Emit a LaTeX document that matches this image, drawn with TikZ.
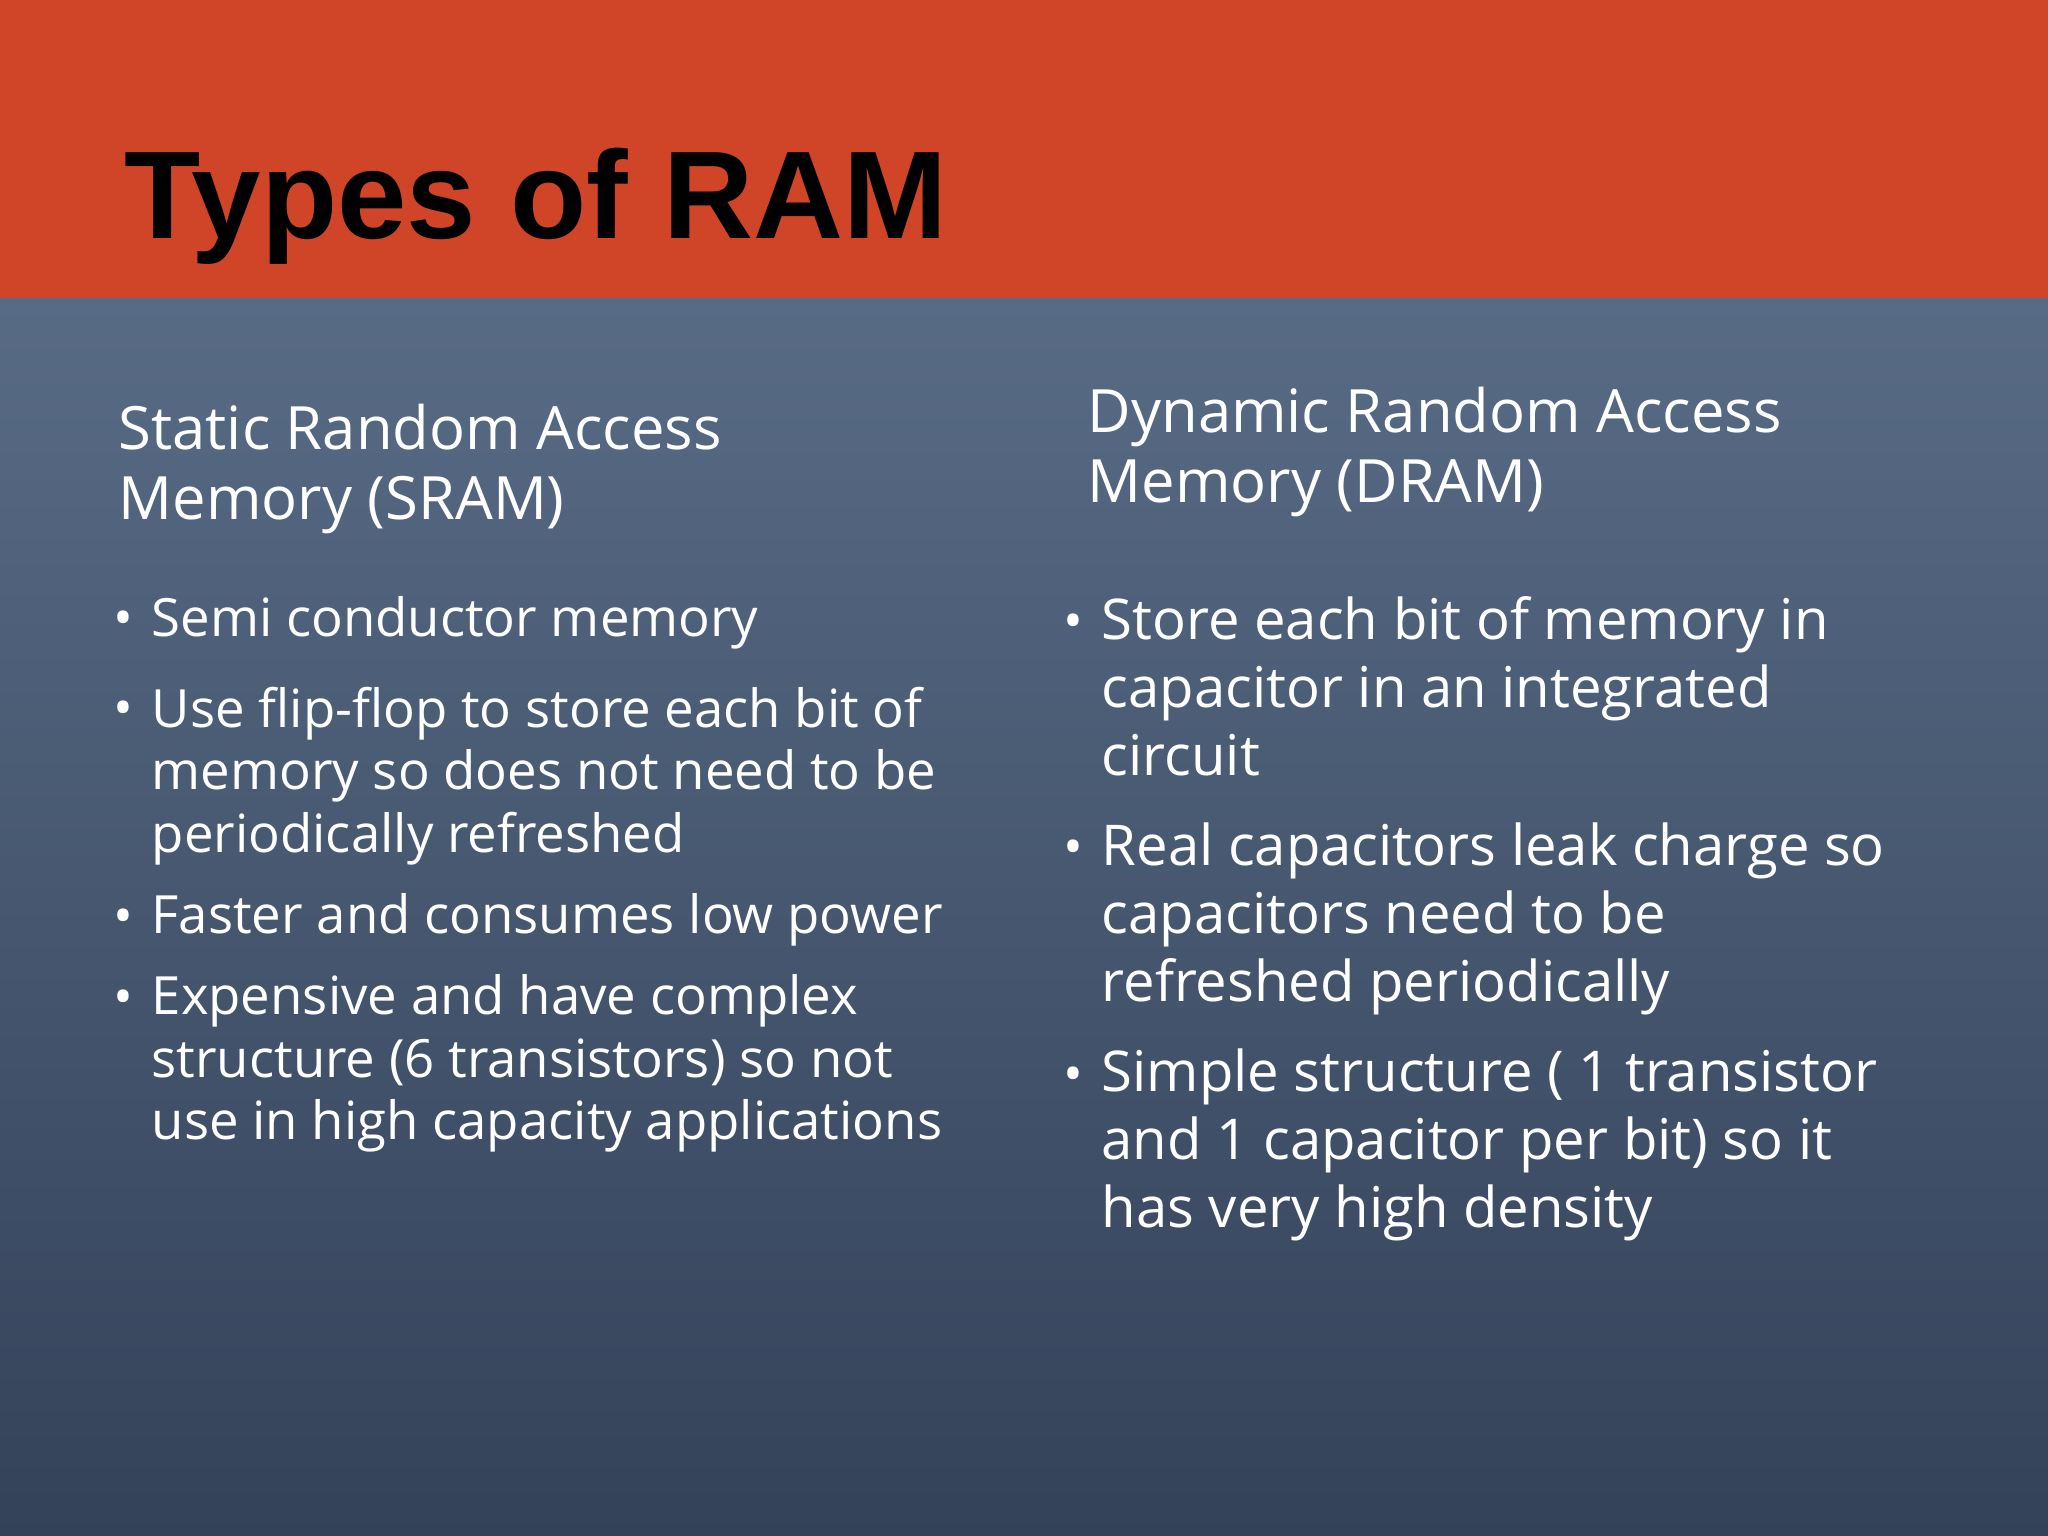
\documentclass[tikz,border=0pt]{standalone}
\usepackage{fontspec}
\setmainfont{Open Sans}
\newfontfamily\titlefont{Liberation Sans}
\definecolor{band}{HTML}{D04527}
\definecolor{bgtop}{HTML}{586B85}
\definecolor{bgbot}{HTML}{344259}
\begin{document}
\begin{tikzpicture}[
  head/.style={anchor=north west, inner sep=0pt, align=left, text=white, font=\fontsize{17}{20}\selectfont},
  item/.style={anchor=north west, inner sep=0pt, align=left, text=white, font=\fontsize{15}{17.8}\selectfont},
  bigitem/.style={item, font=\fontsize{16}{19.3}\selectfont},
  dot/.style={anchor=base west, inner sep=0pt, text=white, font=\fontsize{15}{17.8}\selectfont}
]
  \useasboundingbox (0,0) rectangle (20.48,-15.36);
  % background
  \shade[top color=bgtop, bottom color=bgbot] (0,-2.98) rectangle (20.48,-15.36);
  \fill[band] (0,0) rectangle (20.48,-2.98);
  \node[anchor=base west, inner sep=0pt, font=\titlefont\bfseries\fontsize{35.5}{38}\selectfont] (title) at (1.24,-2.39) {Types of RAM};

  % left column
  \node[head] (sram) at (1.18,-4.03) {Static Random Access\\Memory (SRAM)};
  \node[item] (s1) at (1.51,-5.96) {Semi conductor memory};
  \node[item] (s2) at (1.51,-6.86) {Use flip-flop to store each bit of\\memory so does not need to be\\periodically refreshed};
  \node[item] (s3) at (1.51,-8.93) {Faster and consumes low power};
  \node[item] (s4) at (1.51,-9.74) {Expensive and have complex\\structure (6 transistors) so not\\use in high capacity applications};
  \foreach \y in {-6.37,-7.27,-9.34,-10.15}
    \node[dot] at (1.13,\y) {\textbullet};

  % right column
  \node[head] (dram) at (10.87,-3.86) {Dynamic Random Access\\Memory (DRAM)};
  \node[bigitem] (d1) at (11.01,-5.96) {Store each bit of memory in\\capacitor in an integrated\\circuit};
  \node[bigitem] (d2) at (11.01,-8.22) {Real capacitors leak charge so\\capacitors need to be\\refreshed periodically};
  \node[bigitem] (d3) at (11.01,-10.48) {Simple structure ( 1 transistor\\and 1 capacitor per bit) so it\\has very high density};
  \foreach \y in {-6.40,-8.66,-10.92}
    \node[dot] at (10.63,\y) {\textbullet};
\end{tikzpicture}
\end{document}
